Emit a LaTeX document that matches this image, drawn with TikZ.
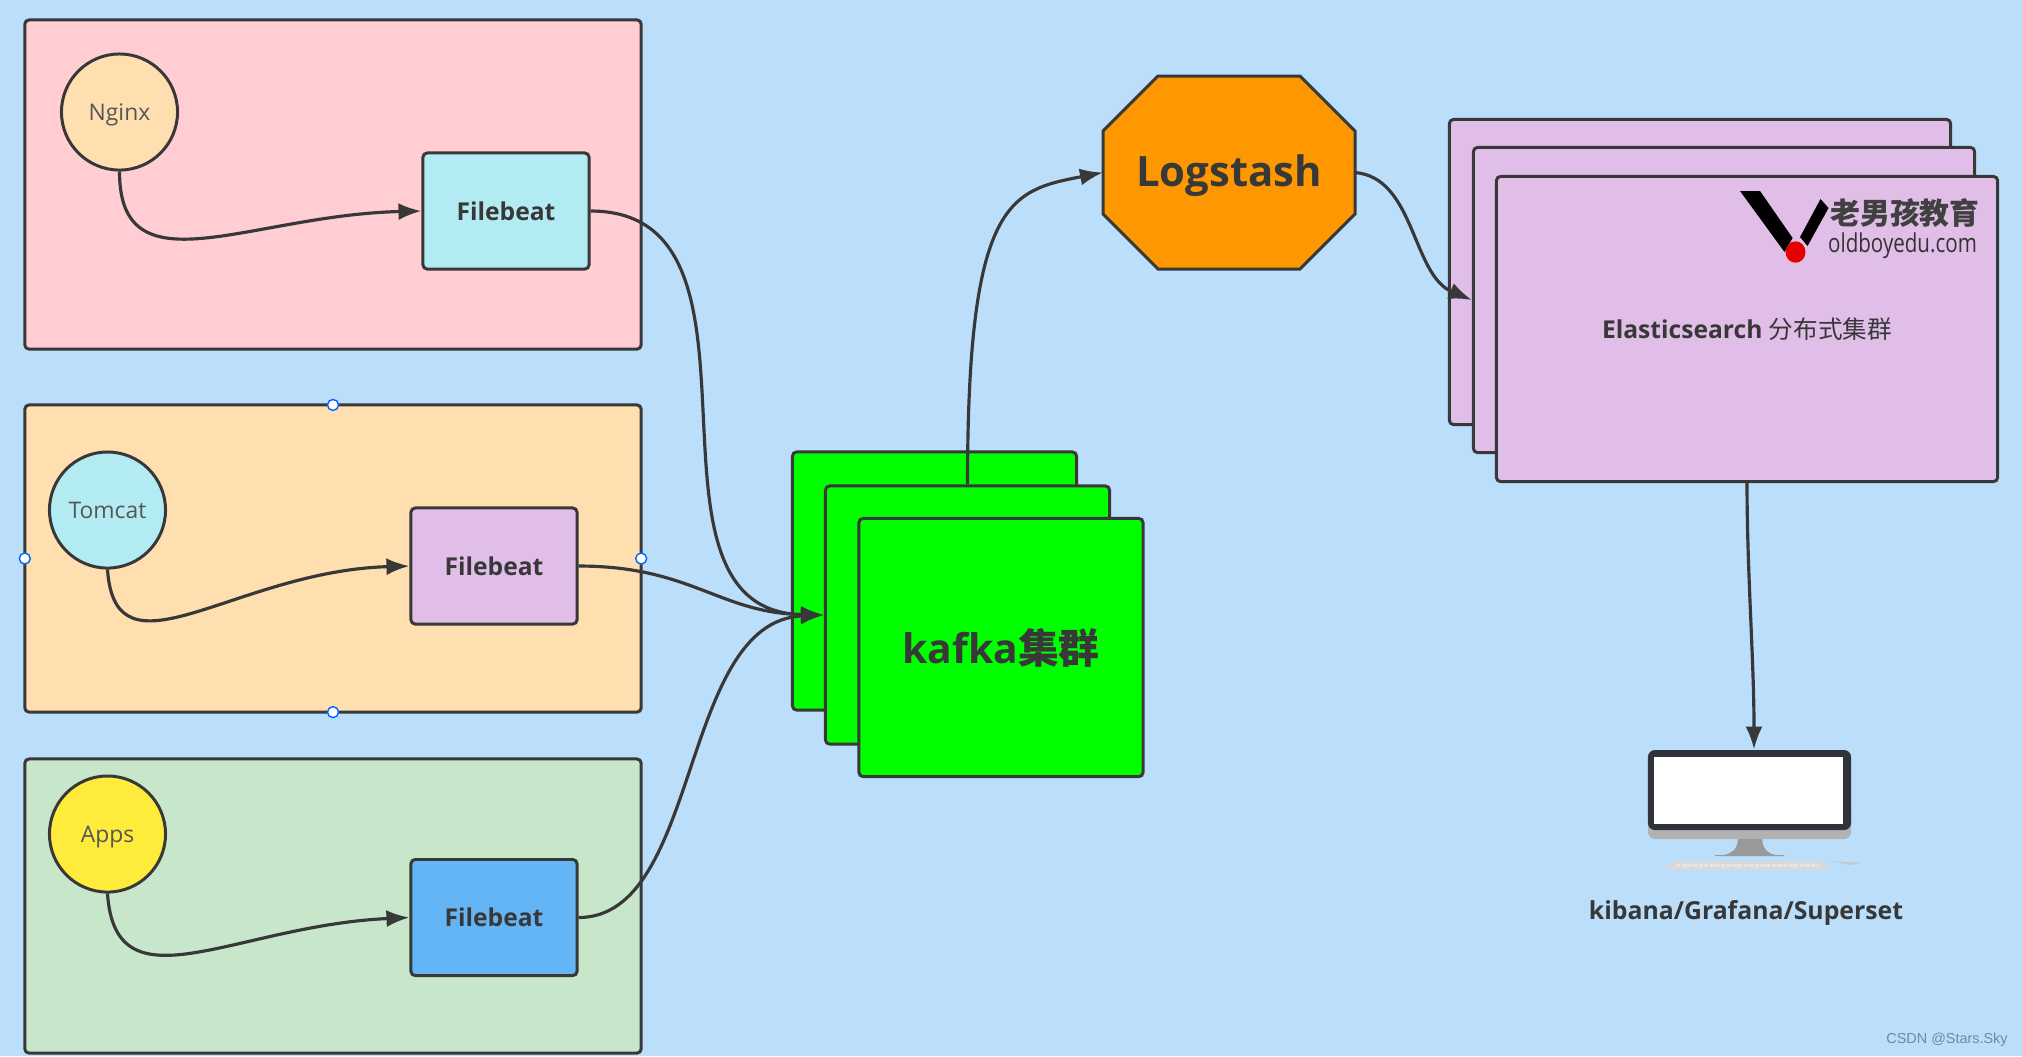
\documentclass[tikz,border=0pt]{standalone}
\usepackage{xcolor}
\usepackage{fontspec}
\setmainfont{Open Sans}
\newfontfamily\cjk{Noto Sans CJK SC}
\newfontfamily\markfont{Liberation Sans}
\usepackage{tikz}
\usetikzlibrary{arrows.meta}
\definecolor{bgblue}{HTML}{BBDEFB}
\definecolor{lightpink}{HTML}{FFCDD2}
\definecolor{lightorange}{HTML}{FFDFB0}
\definecolor{lightgreen}{HTML}{C8E6C9}
\definecolor{lightcyan}{HTML}{B2EBF2}
\definecolor{lightpurple}{HTML}{E1BEE7}
\definecolor{midblue}{HTML}{64B5F6}
\definecolor{sunyellow}{HTML}{FFEB3B}
\definecolor{logsorange}{HTML}{FF9800}
\definecolor{linegray}{HTML}{383838}
\definecolor{screendark}{HTML}{30333C}

\begin{document}
\begin{tikzpicture}[
        x=0.01cm, y=-0.01cm,
        every node/.style={align=center, inner sep=0pt, text=linegray},
        group/.style={rectangle, draw=linegray, line width=0.85pt, outer sep=0pt, rounded corners=1.2pt},
        source/.style={circle, draw=linegray, line width=0.85pt, minimum size=1.16cm, text height=4.64pt, text depth=0pt, font=\fontsize{6.5}{8}\selectfont, text=linegray!85},
        agent/.style={rectangle, draw=linegray, line width=0.85pt, rounded corners=1.2pt, minimum width=1.66cm, minimum height=1.16cm, font=\fontsize{7}{8}\selectfont\bfseries},
        broker/.style={rectangle, draw=linegray, fill=green, line width=0.85pt, rounded corners=1.2pt, minimum width=2.84cm, minimum height=2.58cm},
        cluster/.style={rectangle, draw=linegray, fill=lightpurple, line width=0.85pt, rounded corners=1.2pt, minimum width=5.01cm, minimum height=3.05cm},
        handle/.style={circle, draw=blue!60!cyan, fill=white, line width=0.4pt, minimum size=0.11cm},
        arrow/.style={-{Latex[length=0.23cm, width=0.17cm]}, draw=linegray, line width=0.9pt}
    ]
    \useasboundingbox (0,0) rectangle (2022,1056);
    \fill[bgblue] (0,0) rectangle (2022,1056);

    % Three hosts
    \node[group, fill=lightpink, minimum width=6.16cm, minimum height=3.29cm] (nginxhost) at (333,184.5) {};
    \node[group, fill=lightorange, minimum width=6.16cm, minimum height=3.07cm] (tomcathost) at (333,558.5) {};
    \node[group, fill=lightgreen, minimum width=6.16cm, minimum height=2.94cm] (appshost) at (333,906) {};

    \node[source, fill=lightorange] (nginx) at (119.5,112) {Nginx};
    \node[source, fill=lightcyan] (tomcat) at (107.5,510) {Tomcat};
    \node[source, fill=sunyellow] (apps) at (107.5,834) {Apps};

    \node[agent, fill=lightcyan] (beatone) at (506,211) {Filebeat};
    \node[agent, fill=lightpurple] (beattwo) at (494,566) {Filebeat};
    \node[agent, fill=midblue] (beatthree) at (494,917.5) {Filebeat};

    % Selection handles
    \node[handle] (handletop) at (tomcathost.north) {};
    \node[handle] (handleleft) at (tomcathost.west) {};
    \node[handle] (handleright) at (tomcathost.east) {};
    \node[handle] (handlebottom) at (tomcathost.south) {};

    % Kafka stack
    \node[broker] (kafkaone) at (934.5,581) {};
    \node[broker] (kafkatwo) at (967.5,615) {};
    \draw[arrow] (beatone.east) .. controls +(201,0) and +(-205,-4) .. (kafkatwo.west);
    \draw[arrow] (beattwo.east) .. controls +(113,0) and +(-105,-2) .. (kafkatwo.west);
    \draw[arrow] (beatthree.east) .. controls +(123,0) and +(-145,6) .. (kafkatwo.west);
    \node[broker, font=\fontsize{11.6}{14}\selectfont\bfseries] (kafkathree) at (1001,647.5) {kafka{\cjk 集群}};

    % Logstash
    \draw[fill=logsorange, draw=linegray, line width=0.85pt] (1158,76) -- (1300,76) -- (1355,131) -- (1355,214) -- (1300,269) -- (1158,269) -- (1103,214) -- (1103,131) -- cycle;
    \node[font=\fontsize{11.9}{14}\selectfont\bfseries] (logstashtext) at (1229,176) {Logstash};
    \coordinate (logstashin) at (1103,172.5);
    \coordinate (logstashout) at (1355,172.5);

    % Elasticsearch stack
    \node[cluster] (esone) at (1700,272) {};
    \node[cluster] (estwo) at (1724,300) {};
    \draw[arrow] (logstashout) .. controls +(60,5) and +(-60,-25) .. (estwo.west);
    \node[cluster, font=\fontsize{7}{8}\selectfont\bfseries] (esthree) at (1747,329) {Elasticsearch {\cjk\mdseries 分布式集群}};

    % Logo
    \fill[black] (1740,191) -- (1760,191) -- (1792.6,238) -- (1784.5,252) -- cycle;
    \fill[black] (1820.5,199) -- (1828.5,208) -- (1807.5,246) -- (1800,237) -- cycle;
    \fill[red!90!black] (1795.5,252) ellipse (10 and 10.7);
    \node[text=black!75, font=\cjk\bfseries\fontsize{8.5}{10}\selectfont] (logocn) at (1905,212.5) {老男孩教育};
    \node[text=black!80, font=\fontsize{7.4}{9}\selectfont, xscale=0.79] (logourl) at (1902.5,246) {oldboyedu.com};

    % Monitor
    \fill[black!30, rounded corners=2pt] (1648,800) rectangle (1851,839);
    \node[rectangle, fill=screendark, rounded corners=2pt, minimum width=2.03cm, minimum height=0.8cm] (monitor) at (1749.5,790) {};
    \fill[white] (1654,757) rectangle (1843,824);
    \fill[black!40] (1738,839) -- (1762,839) .. controls (1763,850) and (1768,853) .. (1775,855) -- (1784,855) -- (1784,856) -- (1715,856) -- (1715,855) -- (1724,855) .. controls (1732,853) and (1737,850) .. (1738,839) -- cycle;
    \fill[black!15] (1675,861) -- (1663,870) -- (1830,870) -- (1820,861) -- cycle;
    \draw[white!90!black, line width=1pt, dash pattern=on 1.2pt off 0.4pt] (1676,865.5) -- (1818,865.5);
    \fill[black!22] (1831,861) -- (1861,863) -- (1850,865) -- cycle;
    \coordinate (monitorin) at (1754,749.5);
    \draw[arrow] (esthree.south) .. controls +(0,90) and +(0,-90) .. (monitorin);
    \node[font=\fontsize{7.05}{9}\selectfont\bfseries] (monitorlabel) at (1746,913) {kibana/Grafana/Superset};

    % Kafka to Logstash
    \draw[arrow] (kafkatwo.north) .. controls +(0,-285) and +(-93,18) .. (logstashin);

    % Curves to the Filebeats
    \draw[arrow] (nginx.south) .. controls +(0,121) and +(-172,4) .. (beatone.west);
    \draw[arrow] (tomcat.south) .. controls +(8,115) and +(-175,5) .. (beattwo.west);
    \draw[arrow] (apps.south) .. controls +(8,118) and +(-175,8) .. (beatthree.west);

    \node[text=black!38!bgblue, font=\markfont\fontsize{4.1}{5}\selectfont] (mark) at (1947,1040) {CSDN @Stars.Sky};
\end{tikzpicture}
\end{document}
